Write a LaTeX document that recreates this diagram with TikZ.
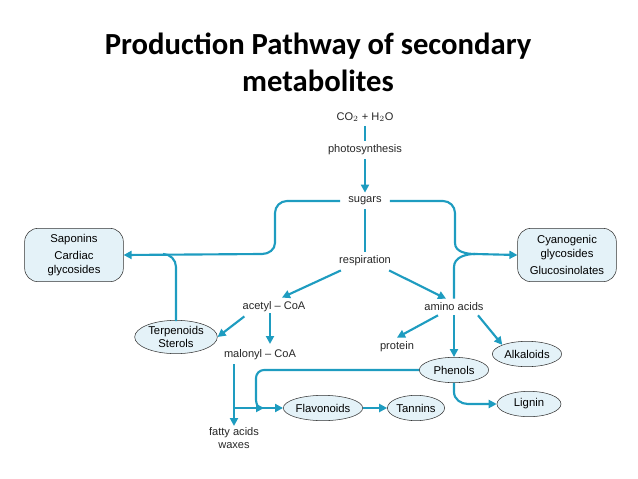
\documentclass[tikz,border=0pt]{standalone}
\usepackage{fontspec}
\setmainfont{Liberation Sans}
\newfontfamily\titlefont{Carlito}
\usetikzlibrary{shapes.geometric,arrows.meta}
\definecolor{teal1}{HTML}{1E9CC0}
\definecolor{fillb}{HTML}{E4F2F8}
\begin{document}
\begin{tikzpicture}[x=0.75pt,y=-0.75pt,
  lab/.style={font=\fontsize{8.3}{10}\selectfont,text=black!85,inner sep=3pt,align=center},
  ell/.style={ellipse,draw=black!80,fill=fillb,font=\fontsize{8.5}{10}\selectfont,inner sep=0.5pt,align=center},
  box/.style={rounded corners=10pt,draw=black!80,fill=fillb,font=\fontsize{8.5}{10.5}\selectfont,align=center,minimum width=74pt,minimum height=40pt},
  con/.style={draw=teal1,line width=1.6pt},
  arr/.style={con,-{Triangle[length=6pt,width=6pt]}}]
\useasboundingbox (0,0) rectangle (638,478);
\node[font=\titlefont\bfseries\fontsize{23}{28}\selectfont,align=center] (title) at (318,62) {Production Pathway of secondary\\metabolites};
\node[lab] (co2) at (365,117) {CO$_2$ + H$_2$O};
\node[lab] (photo) at (365,150) {photosynthesis};
\node[lab,inner xsep=6pt] (sug) at (365,201) {sugars};
\node[lab] (resp) at (365,261) {respiration};
\node[lab] (acet) at (274,307) {acetyl -- CoA};
\node[lab] (amino) at (454,307) {amino acids};
\node[lab] (mal) at (260,355) {malonyl -- CoA};
\node[lab] (prot) at (397,347) {protein};
\node[lab,inner sep=1pt] (fatty) at (234,438) {fatty acids\\waxes};
\node[box] (sap) at (74,255) {Saponins\\[2pt]Cardiac\\glycosides};
\node[box] (cya) at (567,255) {Cyanogenic\\glycosides\\[2pt]Glucosinolates};
\node[ell,minimum width=62pt,minimum height=25pt] (terp) at (176,337) {Terpenoids\\Sterols};
\node[ell,minimum width=52pt,minimum height=19pt] (alk) at (527,354) {Alkaloids};
\node[ell,minimum width=52pt,minimum height=19pt] (phen) at (454,370) {Phenols};
\node[ell,minimum width=56pt,minimum height=19pt] (flav) at (323,408) {Flavonoids};
\node[ell,minimum width=42pt,minimum height=19pt] (tan) at (416,408) {Tannins};
\node[ell,minimum width=48pt,minimum height=19pt] (lig) at (529,404) {Lignin};
\coordinate (mtop) at (234,364);
\coordinate (fend) at (234,426);
% main line
\draw[con] (co2) -- (photo);
\draw[arr] (photo) -- (sug);
\draw[con] (sug) -- (resp);
\draw[arr] (resp.south west) ++(6,0) -- ([xshift=6pt]acet.north);
\draw[arr] (resp.south east) ++(-6,0) -- ([xshift=-6pt]amino.north);
% left branch
\draw[arr] (sug.west) -- (287,201) to[out=180,in=90] (275,213) -- (275,243) to[out=-90,in=0] (262,254) -- (sap.east);
\draw[con] (terp.north) ++(0,1) -- (176,267) to[out=90,in=0] (163,254);
% right branch
\draw[arr] (sug.east) -- (443,201) to[out=0,in=90] (455,213) -- (455,243) to[out=-90,in=180] (475,254) -- (cya.west);
\draw[con] (amino.north) -- (454,267) to[out=90,in=180] (475,254);
% acetyl
\draw[arr] (acet.south west) ++(6,0) -- (terp.east);
\draw[arr] (270,313) -- (270,344);
\draw[arr] (mtop) -- (fend);
\draw[arr] (234,408) -- (flav.west);
% amino
\draw[arr] ([xshift=-12pt]amino.south) -- (prot.north);
\draw[arr] (amino.south) -- (phen.north);
\draw[arr] ([xshift=18pt]amino.south) -- (alk.north west);
\draw[arr] (phen.west) -- (264,370) to[out=180,in=90] (256,378) -- (256,400) to[out=-90,in=180] (264,408);
\draw[arr] (phen.south) -- (454,392) to[out=-90,in=180] (468,404) -- (lig.west);
\draw[arr] (flav.east) -- (tan.west);
\end{tikzpicture}
\end{document}
